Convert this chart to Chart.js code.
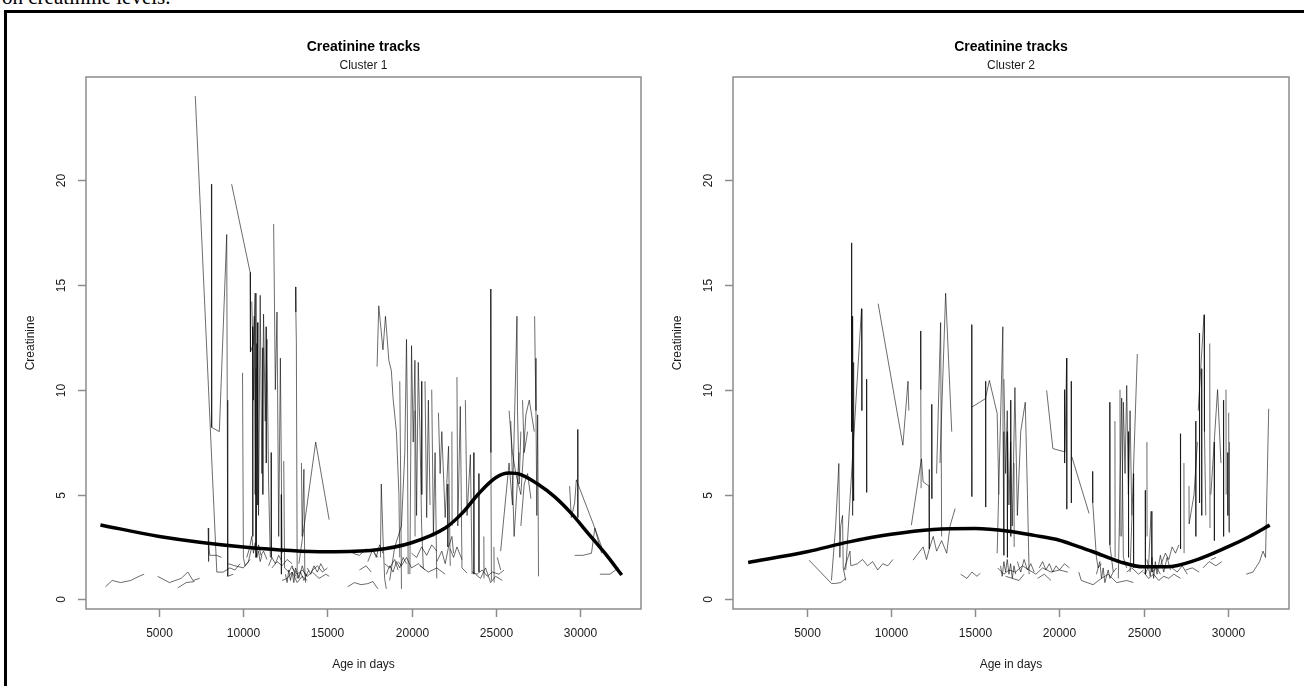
<!DOCTYPE html>
<html>
<head>
<meta charset="utf-8">
<script src="https://cdn.jsdelivr.net/npm/chart.js@4.4.1/dist/chart.umd.min.js"></script>
<style>
  body { margin: 0; background: #fff; width: 1304px; height: 686px; overflow: hidden; position: relative; }
  #caption { position: absolute; left: 2px; top: -15px; font: 21px "Liberation Serif", "Times New Roman", serif; color: #000; white-space: nowrap; }
  #frame { position: absolute; left: 4px; top: 10px; width: 1320px; height: 700px; border: 3px solid #000; box-sizing: border-box; background: #fff; }
  canvas { position: absolute; top: 0; }
</style>
</head>
<body>
<div id="caption">on creatinine levels.</div>
<div id="frame"></div>
<canvas id="c1" width="652" height="686" style="left:0"></canvas>
<canvas id="c2" width="652" height="686" style="left:652px"></canvas>
<script>
// axis ticks
const ageTicks = [5000, 10000, 15000, 20000, 25000, 30000];
const creatTicks = [0, 5, 10, 15, 20];

// cluster 1 patient tracks, [age in days, creatinine]
const cluster1Tracks = [
  [[7140,24.0],[8420,1.3],[8800,1.3],[9200,1.5],[9500,1.4],[9800,1.7]],
  [[8100,19.8],[8110,17.5],[8120,8.2],[8570,8.0],[9010,17.4],[9040,9.5],[9070,1.1],[9400,1.2]],
  [[9300,19.8],[10400,15.6],[10420,11.8],[10600,12.2],[10700,14.6],[10750,2.0],[10900,2.6],[11050,2.1],[11200,2.3],[11400,1.9]],
  [[10500,14.2],[10550,12.5],[10600,9.5],[10650,13.5],[10700,5.0],[10800,12.2],[10900,4.0],[11000,14.5],[11100,6.0],[11200,13.6],[11300,8.5],[11400,12.4],[11500,5.5],[11600,2.0]],
  [[11800,17.9],[11900,10.0],[12000,13.7],[12100,3.0],[12200,11.5],[12300,2.2]],
  [[9950,10.8],[10000,2.0],[10100,1.6],[10300,1.8],[10500,2.5]],
  [[10550,13.0],[10560,3.0]],
  [[10750,11.0],[10760,2.5],[10850,13.2],[10860,4.5]],
  [[11150,12.0],[11160,5.0]],
  [[11350,13.0],[11360,6.5]],
  [[11650,7.0],[11660,2.0]],
  [[12250,5.0],[12260,1.2]],
  [[10200,2.0],[10350,2.4],[10500,3.0],[10600,2.2],[10700,2.7],[10800,2.0],[10900,2.3],[11000,1.8],[11100,2.1]],
  [[11500,1.6],[11700,2.0],[11900,1.7],[12100,2.1],[12300,1.8]],
  [[13100,14.9],[13120,13.7],[13150,12.3],[13200,1.0],[13400,1.3],[13600,0.9],[13800,1.2]],
  [[12400,6.6],[12450,1.5],[12700,1.3],[12900,1.6],[13100,1.1]],
  [[13450,6.5],[13500,3.0],[13600,6.2],[13650,1.5],[13700,0.8]],
  [[13300,1.7],[13700,4.0],[14300,7.5],[15100,3.8]],
  [[12900,1.5],[13200,1.2],[13500,1.4],[13800,1.1],[14100,1.3],[14500,1.0],[14900,1.2],[15100,1.1]],
  [[12500,1.2],[12600,0.8],[12700,1.4],[12800,0.9],[12900,1.3],[13000,0.8],[13100,1.5],[13300,1.0],[13500,1.6],[13700,1.1],[13900,1.4]],
  [[13800,1.5],[14000,1.2],[14200,1.6],[14400,1.3],[14600,1.7],[14800,1.4]],
  [[14000,1.3],[14400,1.6],[14700,1.3],[15000,1.5]],
  [[1800,0.6],[2200,0.9],[2700,0.8],[3300,0.9],[3800,1.1],[4100,1.2]],
  [[4900,1.1],[5600,0.8],[6300,1.0],[6700,1.3],[7000,0.9],[7400,1.0]],
  [[6100,0.55],[6600,0.8],[7100,0.85]],
  [[7900,3.4],[7920,1.8],[7950,2.6],[8000,2.1],[8400,2.1],[8700,2.0]],
  [[9100,1.7],[9500,1.6],[10000,1.5],[10400,1.9]],
  [[11700,1.5],[12000,1.8],[12300,1.6],[12600,1.9],[12900,1.7]],
  [[12300,0.9],[12600,1.0],[12900,1.3],[13200,0.8],[13500,1.1],[13800,0.9]],
  [[16200,0.6],[16600,0.8],[17000,0.7],[17400,0.75],[17700,0.85],[18000,0.5]],
  [[16500,2.2],[16900,2.1],[17300,2.4],[17700,2.3],[18000,2.0]],
  [[16900,1.4],[17300,1.6],[17600,1.3]],
  [[17400,1.8],[17700,2.4],[17900,2.0],[18100,2.6],[18300,2.2]],
  [[17950,11.1],[18050,14.0],[18300,11.9],[18450,13.5],[18650,11.4],[18800,10.9],[18900,9.6],[19100,8.0],[19250,5.0],[19300,2.0]],
  [[18150,2.0],[18200,5.5],[18300,3.0],[18400,1.0],[18500,0.5]],
  [[18700,0.9],[19000,2.5],[19400,3.5],[19600,7.0],[19700,12.4],[19750,9.0],[19800,1.2]],
  [[19300,10.4],[19350,6.0],[19400,0.5]],
  [[18500,1.2],[18700,1.6],[18900,1.3],[19100,1.8],[19300,1.5],[19500,2.0],[19700,1.7]],
  [[19900,1.2],[20000,12.1],[20100,7.5],[20200,11.4],[20300,4.0],[20400,11.3],[20500,8.0],[20600,3.5],[20700,1.5]],
  [[20200,9.0],[20210,3.0]],
  [[20600,10.4],[20610,5.0]],
  [[20800,10.4],[20900,3.9],[21000,9.5],[21100,4.5]],
  [[18400,1.7],[18700,1.5],[19000,1.9],[19200,1.4]],
  [[19200,1.8],[19400,1.6],[19700,2.0],[20000,1.5],[20400,1.7],[20800,1.4]],
  [[20000,2.2],[20300,2.0],[20600,2.5],[20900,2.1],[21200,2.6],[21500,2.3]],
  [[20500,1.6],[21000,1.3],[21500,1.5],[22000,1.2]],
  [[21500,1.8],[21800,2.3],[22000,1.7],[22200,2.5],[22400,3.0],[22500,2.2]],
  [[21200,10.0],[21300,3.0],[21400,7.0],[21500,1.0]],
  [[21600,8.9],[21700,6.0],[21800,8.0],[22000,3.9],[22200,7.3],[22300,1.6]],
  [[22150,5.5],[22160,2.5]],
  [[22400,8.0],[22410,3.5]],
  [[22300,2.4],[22500,2.0],[22700,2.5],[23000,1.9]],
  [[22700,10.6],[22750,3.5],[22900,9.2],[23000,1.5],[23300,1.25]],
  [[23200,9.5],[23300,4.0],[23500,6.9],[23600,1.2]],
  [[23700,7.0],[23710,1.2]],
  [[24000,6.0],[24010,1.3]],
  [[24300,3.0],[24310,1.0]],
  [[24700,14.8],[24720,7.0],[24750,0.9]],
  [[24900,2.5],[24910,0.8]],
  [[23600,1.3],[23900,1.2],[24200,1.4],[24500,1.1],[24800,1.3],[25200,1.2],[25500,1.4]],
  [[23800,1.2],[24100,1.0],[24400,1.5],[24700,0.8],[25000,1.1],[25400,0.9]],
  [[25100,2.0],[25300,1.4]],
  [[25300,2.3],[25500,4.0],[25800,6.5],[26000,4.5],[26270,13.5],[26300,9.0],[26400,5.5],[26500,8.0]],
  [[25800,9.0],[26000,7.0],[26200,6.0],[26500,5.0],[26800,8.8],[27000,9.5],[27300,8.0]],
  [[25900,8.5],[26100,3.0],[26400,7.0]],
  [[26600,9.5],[26700,7.0],[26900,8.0]],
  [[27320,13.5],[27350,11.5],[27400,9.0],[27450,4.0],[27500,8.8],[27550,1.1]],
  [[26500,3.5],[26700,5.5],[26900,6.0],[27100,4.8]],
  [[29400,5.4],[29500,3.9],[29700,4.6],[29800,5.7],[30900,3.4],[31300,2.2]],
  [[29880,8.1],[29890,3.9]],
  [[29700,2.1],[30200,2.1],[30700,2.2],[30900,3.4],[31300,2.5]],
  [[31200,1.2],[31800,1.2],[32300,1.5]]
];

// cluster 1 smoothed mean curve
const cluster1CurveAge =   [1500, 5000, 10000, 15000, 17800, 20000, 22000, 23000, 24000, 25000, 25800, 26500, 27500, 28500, 29500, 30500, 31500, 32500];
const cluster1CurveValue = [3.55, 3.0,  2.5,   2.27,  2.35,  2.7,   3.4,   4.1,   5.05,  5.8,   6.02,  5.95,  5.5,   4.9,   4.1,   3.15,  2.2,   1.16];

// cluster 2 patient tracks
const cluster2Tracks = [
  [[5120,1.87],[5800,1.3],[6450,0.76],[6700,0.76],[7000,0.8],[7300,1.0]],
  [[6450,0.9],[6700,3.5],[6890,6.48],[6950,2.0],[7000,3.5],[7110,4.0],[7150,1.5],[7300,0.9]],
  [[7200,1.4],[7550,2.3],[7600,1.6]],
  [[7640,17.0],[7650,13.8],[7660,8.0],[7680,13.5],[7700,4.0],[7720,13.3],[7740,6.0],[7760,11.3],[7780,4.7]],
  [[7300,1.4],[8238,13.86],[8260,9.0]],
  [[8535,10.5],[8545,5.1]],
  [[7620,1.6],[8000,1.7],[8300,1.9],[8600,1.6],[8900,1.8],[9200,1.4],[9500,1.7],[9800,1.6],[10100,1.9]],
  [[9226,14.1],[10696,7.35],[11000,10.4],[11050,9.0]],
  [[11300,1.87],[11900,2.5],[12100,1.9],[12300,2.5],[12500,3.0],[12700,2.3],[13000,2.8],[13300,2.2],[13500,3.5],[13800,4.33]],
  [[11200,3.54],[11800,6.7],[11900,5.6],[12250,5.4],[12262,6.2],[12270,2.4]],
  [[11750,12.8],[11760,10.0],[11780,5.3]],
  [[12397,9.3],[12420,4.8]],
  [[12700,6.0],[12940,13.2],[13000,3.0]],
  [[12900,6.5],[13237,14.6],[13600,8.0]],
  [[14785,13.1],[14790,10.0],[14800,4.9]],
  [[14800,9.17],[15600,9.57],[15838,10.44],[16300,8.86],[16400,5.0]],
  [[15612,10.4],[15620,4.4]],
  [[16300,2.2],[16638,13.0],[16650,8.0],[16700,2.1]],
  [[16700,10.5],[16800,6.0],[16900,9.0],[17000,4.5],[17100,7.5],[17200,3.5],[17355,10.1],[17500,4.0],[17700,8.0],[17970,9.4],[18100,5.0],[18200,1.2]],
  [[16900,8.0],[16910,2.0]],
  [[17100,9.5],[17110,3.0]],
  [[17300,6.5],[17310,2.5]],
  [[14130,1.2],[14500,1.0],[14800,1.3],[15100,1.1],[15300,1.25]],
  [[16330,1.5],[16700,1.2],[17000,1.4],[17400,1.3],[17800,1.6],[18200,1.4],[18600,1.2],[19000,1.5],[19500,1.3],[20000,1.4],[20500,1.3]],
  [[16500,1.6],[16600,1.1],[16700,1.8],[16800,1.3],[16900,1.9],[17000,1.2],[17100,1.7],[17200,1.0],[17300,1.6],[17400,1.2]],
  [[17500,1.8],[17700,1.3],[17900,1.9],[18100,1.4],[18300,1.7],[18500,1.3]],
  [[16800,1.1],[17200,1.0],[17600,0.9],[17900,1.2]],
  [[18700,1.0],[19100,1.2],[19500,0.9]],
  [[18800,1.5],[19000,1.8],[19200,1.4],[19400,1.7],[19600,1.3],[19800,1.6],[20000,1.4],[20300,1.7],[20600,1.5]],
  [[19240,9.97],[19610,7.19],[20330,7.03],[20430,11.5],[20440,4.3]],
  [[20300,10.0],[20310,6.5]],
  [[20700,10.4],[20710,4.6]],
  [[20740,6.8],[21760,4.1]],
  [[21150,1.3],[21300,0.9],[22000,0.7],[22500,1.0],[22900,1.2],[23400,0.8],[24000,0.9],[24400,0.8]],
  [[22200,1.2],[22400,1.8],[22500,1.0],[22600,1.5],[22700,0.8],[22900,1.4],[23000,1.0],[23200,1.3]],
  [[21970,6.1],[21980,4.6],[22200,2.0],[22300,1.5],[22500,1.7]],
  [[22990,9.4],[23000,2.6],[23200,1.3],[23400,1.5]],
  [[23300,8.5],[23310,2.0]],
  [[23500,1.0],[23700,9.6],[23800,2.0],[24000,1.5]],
  [[23600,10.0],[23610,3.0]],
  [[23700,3.0],[23800,9.4],[23900,6.0],[24000,10.2],[24100,5.0],[24200,9.0],[24300,4.0]],
  [[24100,8.0],[24110,2.0]],
  [[24400,6.0],[24410,1.5]],
  [[24630,11.7],[24200,1.3]],
  [[24000,1.3],[24300,1.5],[24700,1.2],[25000,1.4]],
  [[25100,5.2],[25110,1.2],[25300,1.6],[25450,4.2],[25500,1.3],[25800,1.5],[26000,1.2]],
  [[25200,7.5],[25210,3.0]],
  [[25000,1.3],[25300,1.0],[25600,1.2],[25900,0.9],[26200,1.1],[26500,1.0],[26800,1.2],[27200,1.0]],
  [[25200,1.9],[25400,1.1],[25500,2.0],[25600,1.0],[25700,1.8],[25800,1.2],[26000,2.1],[26200,1.3],[26400,2.0],[26600,1.4]],
  [[26000,1.6],[26300,2.2],[26500,1.9],[26700,2.5],[26900,2.2],[27100,2.6]],
  [[26700,1.5],[27000,1.3],[27300,1.6],[27600,1.2]],
  [[27190,7.9],[27200,2.4]],
  [[27400,6.5],[27410,2.2]],
  [[27500,1.4],[27900,1.5],[28300,1.3]],
  [[27700,5.4],[27710,3.6],[28000,5.0],[28200,7.5]],
  [[28100,8.5],[28110,3.0]],
  [[28318,12.7],[28330,4.6]],
  [[28450,11.0],[28460,4.0]],
  [[28250,9.0],[28594,13.57],[28620,8.0],[28700,4.0]],
  [[28935,12.2],[28950,3.4]],
  [[29000,5.0],[29400,10.0],[29600,6.5]],
  [[29200,7.5],[29210,2.8]],
  [[29750,9.5],[29760,3.0]],
  [[29900,10.0],[29910,5.0]],
  [[30000,7.0],[30010,4.0]],
  [[30060,8.9],[30080,3.2],[30100,7.5]],
  [[28530,1.5],[28900,1.8],[29300,1.6],[29650,1.8]],
  [[29000,1.9],[29300,2.0]],
  [[31100,1.2],[31500,1.3],[31900,1.8],[32100,2.3],[32250,2.0],[32439,9.09]]
];

// cluster 2 smoothed mean curve
const cluster2CurveAge =   [1500, 5000, 7500, 10000, 12500, 15000, 17000, 18500, 20000, 21000, 22000, 23600, 25000, 26400, 28100, 30000, 31300, 32500];
const cluster2CurveValue = [1.76, 2.27, 2.74, 3.1,   3.33,  3.38,  3.25,  3.05,  2.82,  2.55,  2.27,  1.79,  1.55,  1.55,  1.87,  2.5,   3.0,   3.54];

const FONT = '"Liberation Sans", Arial, Helvetica, sans-serif';

// R-style box, ticks and titles
const rAxes = {
  id: 'rAxes',
  afterDraw(chart, args, opts) {
    const ctx = chart.ctx;
    const a = chart.chartArea;
    const xs = chart.scales.x, ys = chart.scales.y;
    ctx.save();
    ctx.strokeStyle = '#8c8c8c';
    ctx.lineWidth = 1.5;
    ctx.strokeRect(a.left, a.top, a.right - a.left, a.bottom - a.top);
    ctx.fillStyle = '#1a1a1a';
    ctx.font = '12px ' + FONT;
    ctx.textAlign = 'center';
    ctx.textBaseline = 'middle';
    ageTicks.forEach(v => {
      const px = Math.round(xs.getPixelForValue(v)) + 0.5;
      ctx.beginPath(); ctx.moveTo(px, a.bottom); ctx.lineTo(px, a.bottom + 8); ctx.stroke();
      ctx.fillText(String(v), px, a.bottom + 25);
    });
    creatTicks.forEach(v => {
      const py = Math.round(ys.getPixelForValue(v)) + 0.5;
      ctx.beginPath(); ctx.moveTo(a.left - 8, py); ctx.lineTo(a.left, py); ctx.stroke();
      ctx.save();
      ctx.translate(a.left - 24, py);
      ctx.rotate(-Math.PI / 2);
      ctx.fillText(String(v), 0, 0);
      ctx.restore();
    });
    const cx = (a.left + a.right) / 2, cy = (a.top + a.bottom) / 2;
    ctx.fillText('Age in days', cx, a.bottom + 56);
    ctx.save();
    ctx.translate(a.left - 55, cy);
    ctx.rotate(-Math.PI / 2);
    ctx.fillText('Creatinine', 0, 0);
    ctx.restore();
    ctx.fillStyle = '#000';
    ctx.font = 'bold 14px ' + FONT;
    ctx.fillText('Creatinine tracks', cx, 47);
    ctx.font = '12px ' + FONT;
    ctx.fillStyle = '#1a1a1a';
    ctx.fillText(opts.subtitle, cx, 66);
    ctx.restore();
  }
};

function makePanel(id, tracks, curveAge, curveValue, subtitle, padLeft, padRight, xMin) {
  const datasets = tracks.map(t => ({
    data: t.map(p => ({ x: p[0], y: p[1] })),
    showLine: true,
    borderColor: 'rgba(0,0,0,0.58)',
    borderWidth: 1,
    pointRadius: 0,
    tension: 0
  }));
  datasets.push({
    data: curveAge.map((a, i) => ({ x: a, y: curveValue[i] })),
    showLine: true,
    borderColor: '#000',
    borderWidth: 3.5,
    pointRadius: 0,
    cubicInterpolationMode: 'monotone'
  });
  return new Chart(document.getElementById(id), {
    type: 'scatter',
    data: { datasets },
    options: {
      responsive: false,
      animation: false,
      devicePixelRatio: 1,
      layout: { padding: { left: padLeft, right: padRight, top: 77, bottom: 77 } },
      scales: {
        x: { type: 'linear', min: xMin, max: 33645, display: false },
        y: { type: 'linear', min: -0.46, max: 24.91, display: false }
      },
      plugins: { legend: { display: false }, tooltip: { enabled: false }, rAxes: { subtitle } }
    },
    plugins: [rAxes]
  });
}

makePanel('c1', cluster1Tracks, cluster1CurveAge, cluster1CurveValue, 'Cluster 1', 86, 11, 641);
makePanel('c2', cluster2Tracks, cluster2CurveAge, cluster2CurveValue, 'Cluster 2', 81, 15, 599);
</script>
</body>
</html>
